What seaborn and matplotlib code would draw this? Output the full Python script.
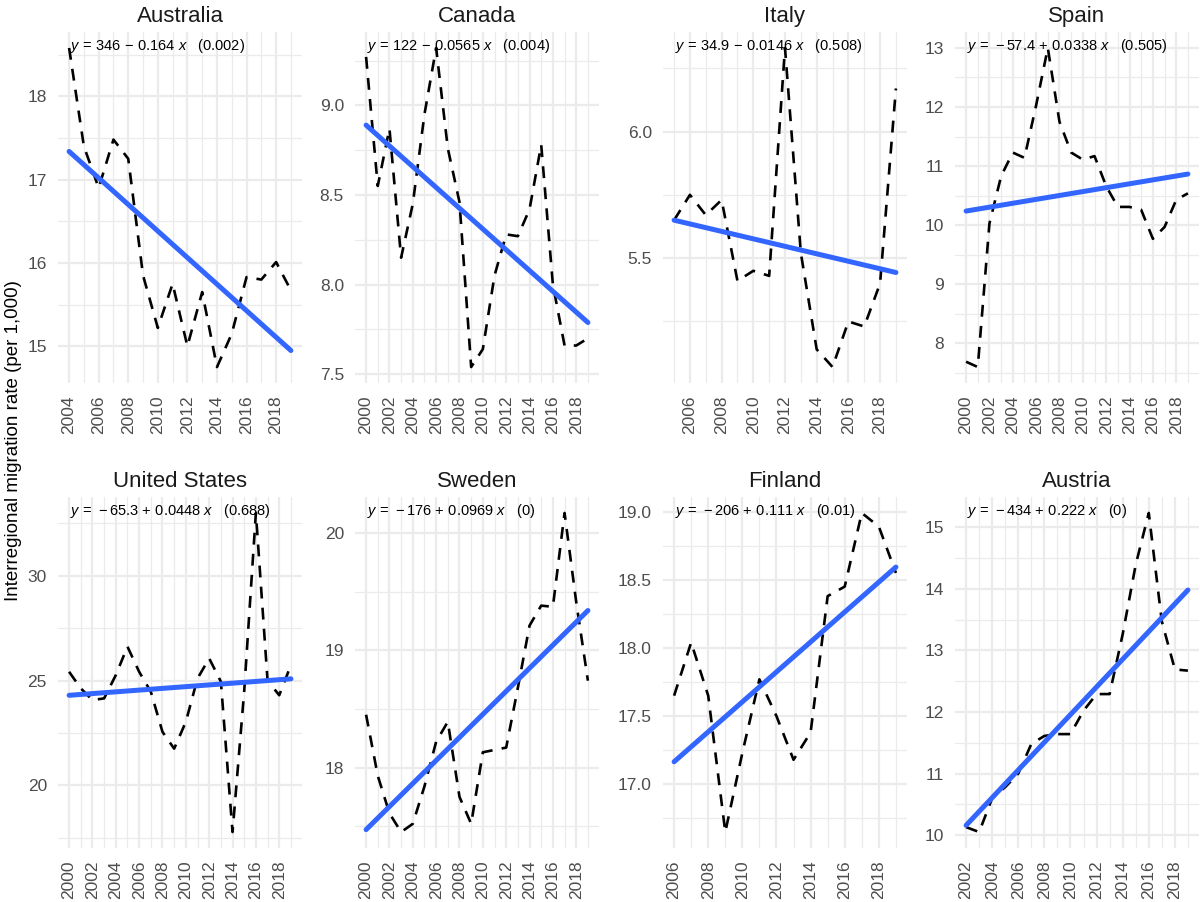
import pandas as pd
import seaborn as sns
import matplotlib.pyplot as plt
from matplotlib.ticker import MultipleLocator, FormatStrFormatter

# Panels, in facet order
countries = ['Australia', 'Canada', 'Italy', 'Spain',
             'United States', 'Sweden', 'Finland', 'Austria']
first_year = [2004, 2000, 2005, 2000, 2000, 2000, 2006, 2002]

# Interregional migration rate per 1,000 (one value per year)
australia = [18.58, 17.40, 16.90, 17.48, 17.25, 15.85, 15.22, 15.75,
             15.00, 15.65, 14.75, 15.15, 15.83, 15.80, 16.01, 15.67]
canada = [9.27, 8.55, 8.87, 8.15, 8.45, 8.95, 9.32, 8.76, 8.46, 7.54,
          7.64, 8.05, 8.28, 8.27, 8.42, 8.78, 8.00, 7.66, 7.66, 7.70]
italy = [5.65, 5.75, 5.67, 5.73, 5.41, 5.45, 5.43, 6.33, 5.52, 5.14,
         5.07, 5.25, 5.23, 5.40, 6.17]
spain = [7.69, 7.60, 10.03, 10.83, 11.23, 11.14, 12.03, 13.00, 11.75, 11.23,
         11.11, 11.17, 10.66, 10.31, 10.31, 10.26, 9.77, 9.97, 10.43, 10.54]
united_states = [25.42, 24.63, 24.07, 24.15, 25.26, 26.62, 25.42, 24.47, 22.55, 21.75,
                 23.03, 25.10, 26.06, 24.95, 17.77, 24.50, 33.00, 25.00, 24.30, 25.74]
sweden = [18.45, 17.93, 17.61, 17.45, 17.52, 17.84, 18.22, 18.39, 17.75, 17.52,
          18.13, 18.15, 18.17, 18.68, 19.21, 19.38, 19.37, 20.17, 19.41, 18.74]
finland = [17.65, 18.04, 17.65, 16.65, 17.23, 17.77, 17.50, 17.18, 17.38, 18.38,
           18.45, 18.99, 18.89, 18.55]
austria = [10.13, 10.05, 10.60, 10.78, 11.00, 11.48, 11.61, 11.64, 11.64, 12.02,
           12.29, 12.29, 13.26, 14.39, 15.23, 13.47, 12.69, 12.67]
rates = [australia, canada, italy, spain, united_states, sweden, finland, austria]

# Fitted equation labels and p-values as printed on the chart
equations = [r'$y\,=\,346\,-\,0.164\ x$', r'$y\,=\,122\,-\,0.0565\ x$',
             r'$y\,=\,34.9\,-\,0.0146\ x$', r'$y\,=\,-57.4\,+\,0.0338\ x$',
             r'$y\,=\,-65.3\,+\,0.0448\ x$', r'$y\,=\,-176\,+\,0.0969\ x$',
             r'$y\,=\,-206\,+\,0.111\ x$', r'$y\,=\,-434\,+\,0.222\ x$']
p_values = ['(0.002)', '(0.004)', '(0.508)', '(0.505)',
            '(0.688)', '(0)', '(0.01)', '(0)']

# y tick spacing per panel
y_steps = [1, 0.5, 0.5, 1, 5, 1, 0.5, 1]

# long table for the facet grid
rows = []
for name, start, vals in zip(countries, first_year, rates):
    for i, v in enumerate(vals):
        rows.append({'country': name, 'year': start + i, 'rate': v})
df = pd.DataFrame(rows)

sns.set_style('white')
plt.rcParams['font.family'] = ['Liberation Sans', 'DejaVu Sans']
plt.rcParams['mathtext.fontset'] = 'custom'
plt.rcParams['mathtext.rm'] = 'Liberation Sans'
plt.rcParams['mathtext.it'] = 'Liberation Sans:italic'

g = sns.FacetGrid(df, col='country', col_wrap=4, col_order=countries,
                  sharex=False, sharey=False, height=4, aspect=0.75)
g.map_dataframe(sns.lineplot, x='year', y='rate', color='black',
                lw=1.9, linestyle=(0, (4.5, 3.5)))
g.map_dataframe(sns.regplot, x='year', y='rate', scatter=False, ci=None,
                color='#3366FF', line_kws={'lw': 3.6})
g.set_titles('{col_name}', size=16, color='#1A1A1A', pad=7)
g.set_axis_labels('', '')

fig = g.figure
fig.set_size_inches(12, 9.02)

# panel placement (pixels in a 1200 x 902 canvas)
col_left = [58, 355, 663, 955]
row_top = [32, 497]
pw, ph = 244, 351

for k, (ax, step, eq, p) in enumerate(zip(g.axes.flat, y_steps, equations, p_values)):
    r, c = divmod(k, 4)
    ax.set_position([col_left[c] / 1200, 1 - (row_top[r] + ph) / 902, pw / 1200, ph / 902])
    ax.xaxis.set_major_locator(MultipleLocator(2))
    ax.xaxis.set_minor_locator(MultipleLocator(1))
    ax.yaxis.set_major_locator(MultipleLocator(step))
    ax.yaxis.set_minor_locator(MultipleLocator(step / 2))
    ax.yaxis.set_major_formatter(FormatStrFormatter('%.1f' if step < 1 else '%d'))
    ax.grid(which='major', color='#EBEBEB', lw=1.6)
    ax.grid(which='minor', color='#EBEBEB', lw=0.9)
    ax.set_axisbelow(True)
    ax.tick_params(which='both', length=0, labelsize=12.5, labelcolor='#4D4D4D')
    ax.tick_params(axis='y', pad=8)
    ax.tick_params(axis='x', labelrotation=90, pad=9)
    for s in ax.spines.values():
        s.set_visible(False)
    ax.text(0.05, 0.96, eq + '   ' + p, transform=ax.transAxes,
            fontsize=10.5, ha='left', va='center', color='black')

fig.text(0.004, 0.512, 'Interregional migration rate (per 1,000)',
         rotation=90, va='center', ha='left', fontsize=13.5, color='black')

fig.savefig('out.png', dpi=100)
